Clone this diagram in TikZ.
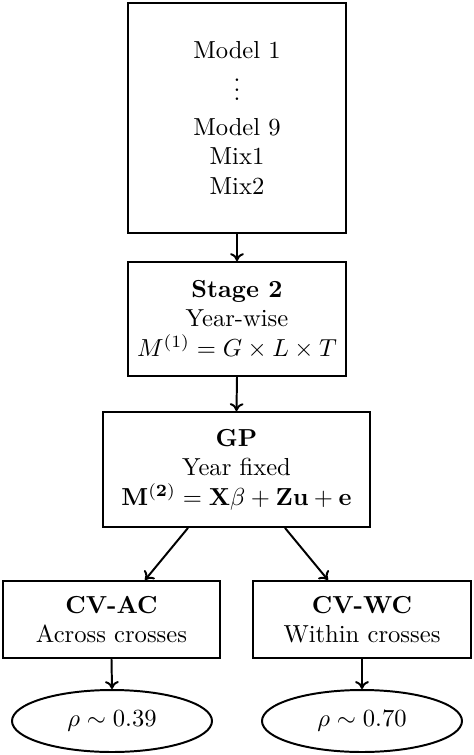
\documentclass[tikz,border=0pt]{standalone}
\usetikzlibrary{shapes.geometric,calc,arrows.meta}
\begin{document}
\begin{tikzpicture}[x=0.4065pt,y=-0.4065pt,
  box/.style={draw, line width=0.8pt, align=center, inner sep=0pt},
  oval/.style={draw, ellipse, line width=0.8pt, inner sep=0pt, minimum width=81.3pt, minimum height=25.2pt},
  conn/.style={-{To[length=3.2pt,width=5.6pt]}, line width=0.8pt}]
\useasboundingbox (0,0) rectangle (474,755);
\node[box, minimum width=88.6pt, minimum height=93.5pt] (models) at (237,118)
  {Model 1\\[1pt] $\vdots$\\[2pt] Model 9\\ Mix1\\ Mix2};
\node[box, minimum width=88.6pt, minimum height=46.3pt] (stage) at (237,319)
  {\textbf{Stage 2}\\ Year-wise\\ $M^{(1)} = G \times L \times T$};
\node[box, minimum width=108.5pt, minimum height=46.7pt] (gp) at (236.5,469.5)
  {\textbf{GP}\\ Year fixed\\ $\mathbf{M}^{\mathbf{(2)}} = \mathbf{X}\beta + \mathbf{Zu} + \mathbf{e}$};
\node[box, minimum width=88.2pt, minimum height=31.3pt] (cvac) at (111.5,619.5)
  {\textbf{CV-AC}\\ Across crosses};
\node[box, minimum width=88.6pt, minimum height=31.3pt] (cvwc) at (362,619.5)
  {\textbf{CV-WC}\\ Within crosses};
\node[oval] (rac) at (112,721) {$\rho \sim 0.39$};
\node[oval] (rwc) at (362,721) {$\rho \sim 0.70$};
\draw[conn] (models.south) -- (stage.north);
\draw[conn] (stage.south) -- (gp.north);
\draw[conn] ($(gp.south)+(-48.5,0)$) -- ($(cvac.north)+(33.5,0)$);
\draw[conn] ($(gp.south)+(48.5,0)$) -- ($(cvwc.north)+(-34,0)$);
\draw[conn] (cvac.south) -- (rac.north);
\draw[conn] (cvwc.south) -- (rwc.north);
\end{tikzpicture}
\end{document}
